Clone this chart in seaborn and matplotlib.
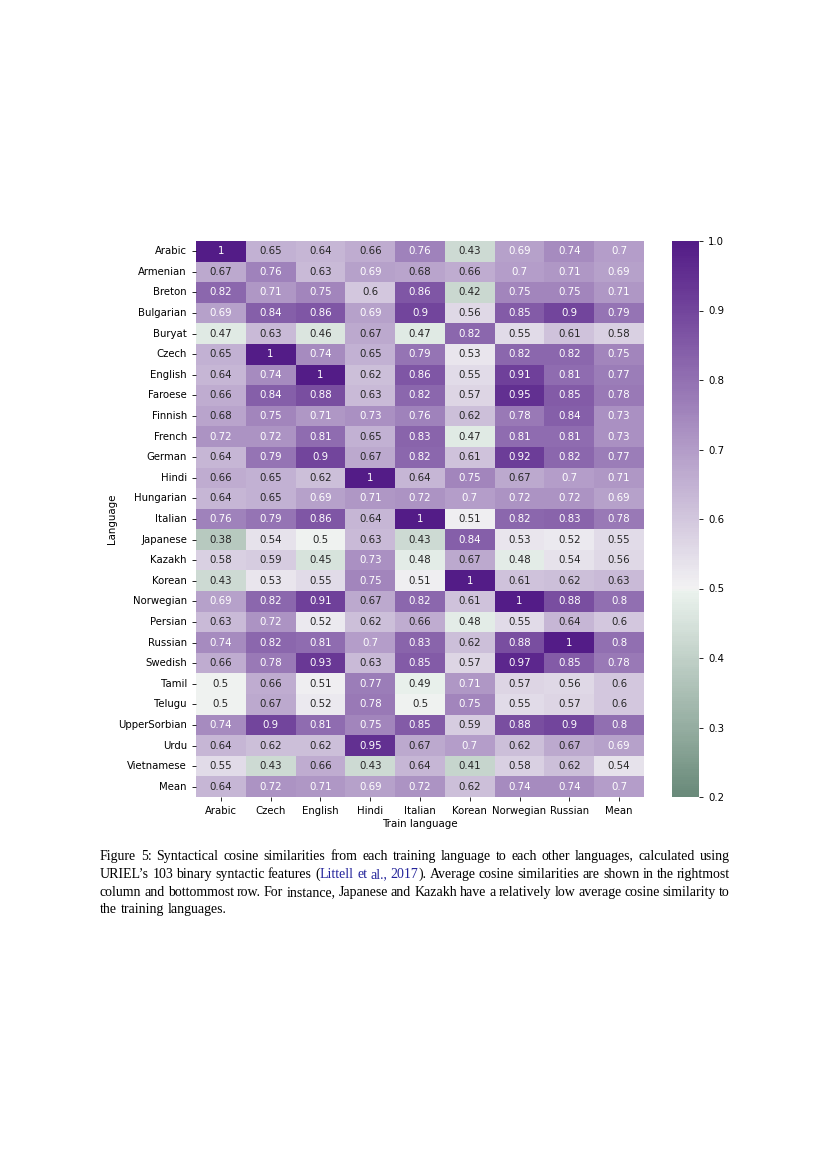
import numpy as np
import pandas as pd
import seaborn as sns
import matplotlib.pyplot as plt

# Rows = evaluated language, columns = training language (+ mean)
languages = ["Arabic", "Armenian", "Breton", "Bulgarian", "Buryat", "Czech", "English",
             "Faroese", "Finnish", "French", "German", "Hindi", "Hungarian", "Italian",
             "Japanese", "Kazakh", "Korean", "Norwegian", "Persian", "Russian", "Swedish",
             "Tamil", "Telugu", "UpperSorbian", "Urdu", "Vietnamese", "Mean"]
train_languages = ["Arabic", "Czech", "English", "Hindi", "Italian", "Korean",
                   "Norwegian", "Russian", "Mean"]

similarities = [
    [1, 0.65, 0.64, 0.66, 0.76, 0.43, 0.69, 0.74, 0.7],
    [0.67, 0.76, 0.63, 0.69, 0.68, 0.66, 0.7, 0.71, 0.69],
    [0.82, 0.71, 0.75, 0.6, 0.86, 0.42, 0.75, 0.75, 0.71],
    [0.69, 0.84, 0.86, 0.69, 0.9, 0.56, 0.85, 0.9, 0.79],
    [0.47, 0.63, 0.46, 0.67, 0.47, 0.82, 0.55, 0.61, 0.58],
    [0.65, 1, 0.74, 0.65, 0.79, 0.53, 0.82, 0.82, 0.75],
    [0.64, 0.74, 1, 0.62, 0.86, 0.55, 0.91, 0.81, 0.77],
    [0.66, 0.84, 0.88, 0.63, 0.82, 0.57, 0.95, 0.85, 0.78],
    [0.68, 0.75, 0.71, 0.73, 0.76, 0.62, 0.78, 0.84, 0.73],
    [0.72, 0.72, 0.81, 0.65, 0.83, 0.47, 0.81, 0.81, 0.73],
    [0.64, 0.79, 0.9, 0.67, 0.82, 0.61, 0.92, 0.82, 0.77],
    [0.66, 0.65, 0.62, 1, 0.64, 0.75, 0.67, 0.7, 0.71],
    [0.64, 0.65, 0.69, 0.71, 0.72, 0.7, 0.72, 0.72, 0.69],
    [0.76, 0.79, 0.86, 0.64, 1, 0.51, 0.82, 0.83, 0.78],
    [0.38, 0.54, 0.5, 0.63, 0.43, 0.84, 0.53, 0.52, 0.55],
    [0.58, 0.59, 0.45, 0.73, 0.48, 0.67, 0.48, 0.54, 0.56],
    [0.43, 0.53, 0.55, 0.75, 0.51, 1, 0.61, 0.62, 0.63],
    [0.69, 0.82, 0.91, 0.67, 0.82, 0.61, 1, 0.88, 0.8],
    [0.63, 0.72, 0.52, 0.62, 0.66, 0.48, 0.55, 0.64, 0.6],
    [0.74, 0.82, 0.81, 0.7, 0.83, 0.62, 0.88, 1, 0.8],
    [0.66, 0.78, 0.93, 0.63, 0.85, 0.57, 0.97, 0.85, 0.78],
    [0.5, 0.66, 0.51, 0.77, 0.49, 0.71, 0.57, 0.56, 0.6],
    [0.5, 0.67, 0.52, 0.78, 0.5, 0.75, 0.55, 0.57, 0.6],
    [0.74, 0.9, 0.81, 0.75, 0.85, 0.59, 0.88, 0.9, 0.8],
    [0.64, 0.62, 0.62, 0.95, 0.67, 0.7, 0.62, 0.67, 0.69],
    [0.55, 0.43, 0.66, 0.43, 0.64, 0.41, 0.58, 0.62, 0.54],
    [0.64, 0.72, 0.71, 0.69, 0.72, 0.62, 0.74, 0.74, 0.7],
]

data = pd.DataFrame(similarities, index=languages, columns=train_languages)

W, H = 827, 1169
fig = plt.figure(figsize=(W / 100, H / 100), dpi=100)
ax = fig.add_axes([196 / W, 1 - 797 / H, 448 / W, 556 / H])
cax = fig.add_axes([672 / W, 1 - 797 / H, 27 / W, 556 / H])

cmap = sns.diverging_palette(145, 280, s=85, l=25, as_cmap=True)
sns.heatmap(data, ax=ax, cbar_ax=cax, cmap=cmap, vmin=0.2, vmax=1.0, center=0.5,
            annot=True, fmt=".2g", annot_kws={"fontsize": 7.4})

ax.set_xlabel("Train language", fontsize=7.4, labelpad=2)
ax.set_ylabel("Language", fontsize=7.4, labelpad=0.5)
ax.tick_params(labelsize=7.3, length=3, width=0.6)
plt.setp(ax.get_yticklabels(), rotation=0)
plt.setp(ax.get_xticklabels(), rotation=0)
cax.tick_params(labelsize=7.3, length=3, width=0.6)
cax.set_yticks([0.2, 0.3, 0.4, 0.5, 0.6, 0.7, 0.8, 0.9, 1.0])

# Caption, justified by hand
blue = "#23239a"
caption_lines = [
    "Figure 5: Syntactical cosine similarities from each training language to each other languages, calculated using",
    "URIEL\u2019s 103 binary syntactic features ( Littell| et| al.,| 2017| ). Average cosine similarities are shown in the rightmost",
    "column and bottommost row. For instance, Japanese and Kazakh have a relatively low average cosine similarity to",
    "the training languages.",
]
renderer = fig.canvas.get_renderer()
x0, x1 = 100, 730
baselines = [860, 878, 896, 913]
cap_font = dict(family="Liberation Serif", fontsize=10)


def split_words(line):
    # "|" marks blue pieces; "( Littell|" means "(" then blue "Littell" in one word
    words = []
    raw = line.replace("( ", "(\x00").replace("| ).", "|\x00).").split(" ")
    for w in raw:
        parts = []
        for p in w.split("\x00"):
            if p.endswith("|"):
                parts.append((p[:-1], blue))
            else:
                parts.append((p, "black"))
        words.append(parts)
    return words


for i, line in enumerate(caption_lines):
    words = split_words(line)
    objs, widths = [], []
    for parts in words:
        row, wsum = [], 0
        for t, c in parts:
            txt = fig.text(0, 0, t, color=c, va="baseline", ha="left", **cap_font)
            wd = txt.get_window_extent(renderer).width
            row.append((txt, wd))
            wsum += wd
        objs.append(row)
        widths.append(wsum)
    if i == len(caption_lines) - 1:
        gap = 3.5
    else:
        gap = (x1 - x0 - sum(widths)) / (len(words) - 1)
    x = x0
    for row, wsum in zip(objs, widths):
        xx = x
        for txt, wd in row:
            txt.set_position((xx / W, 1 - baselines[i] / H))
            xx += wd
        x += wsum + gap

fig.savefig("out.png", dpi=100)
